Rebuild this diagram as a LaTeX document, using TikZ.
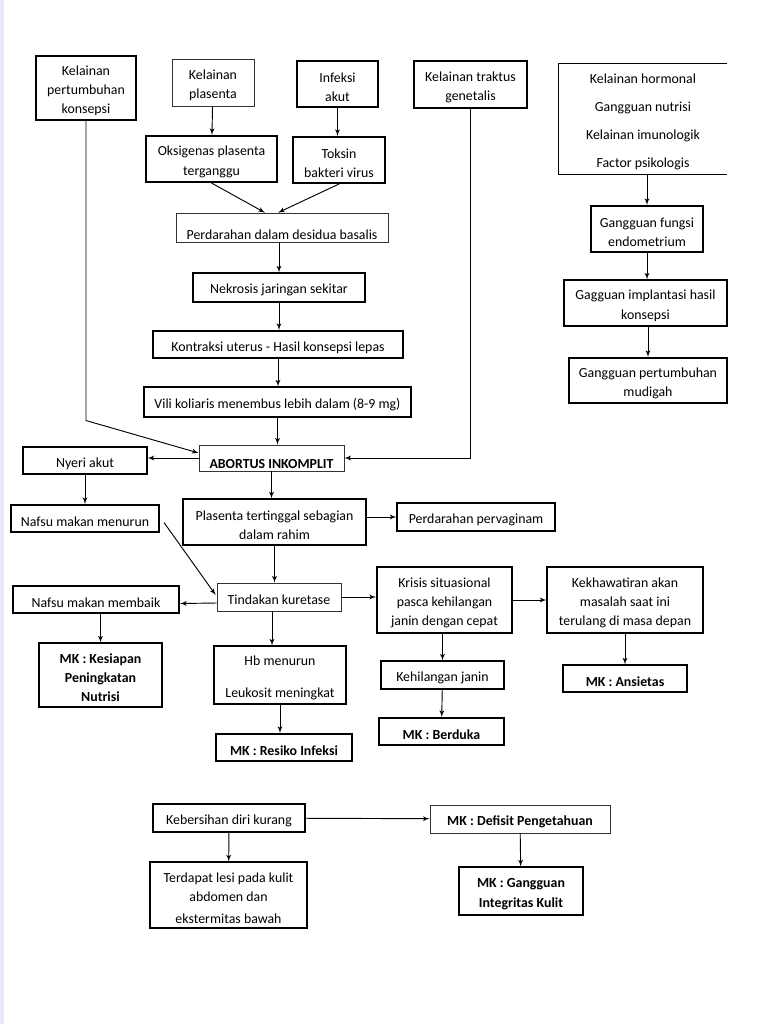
\documentclass[tikz,border=0pt]{standalone}
\usepackage{fontspec}
\setmainfont{Carlito}
\usepackage{tikz}
\usetikzlibrary{arrows}
\usetikzlibrary{calc}
\definecolor{strip}{RGB}{232,232,248}
\newcommand{\fsz}{\fontsize{10.4}{14.4}\selectfont}
\newcommand{\hgt}{\rule{0pt}{11.5pt}}
\tikzstyle{every node}+=[inner sep=0pt]
\tikzstyle{block} = [rectangle, draw, text centered, align=center, line width=0.8pt, execute at begin node={\hgt}]
\tikzstyle{blockb} = [block, line width=1.5pt]
\tikzstyle{blockt} = [block, line width=0.5pt, draw=black!80]
\tikzstyle{mk} = [font=\fsz\bfseries]
\tikzstyle{line} = [draw, -latex', line width=0.7pt]
\tikzset{wh/.style 2 args={minimum width=#1*0.75pt, minimum height=#2*0.75pt}}

\begin{document}
\begin{tikzpicture}[x=0.75pt, y=-0.75pt, font=\fsz]
            \useasboundingbox (0,0) rectangle (768,1024);
            \fill[strip] (0,0) rectangle (4,1024);
            % Place nodes
            \node [block, wh={100}{64}] (kp) at (86,88) {\hgt Kelainan\\pertumbuhan\\konsepsi};
            \node [blockt, wh={82}{47}] (kpl) at (213,82.5) {\hgt Kelainan\\plasenta};
            \node [block, wh={81}{46}] (ia) at (337.5,84) {\hgt Infeksi\\akut};
            \node [block, wh={113}{47}] (kt) at (470.5,84.5) {\hgt Kelainan traktus\\genetalis};
            \node [align=center, wh={168}{110}] (kh) at (643,119) {\hgt Kelainan hormonal\\[6.5pt]Gangguan nutrisi\\[6.5pt]Kelainan imunologik\\[6.5pt]Factor psikologis};
            \draw [line width=0.5pt] (kh.north east) -- (kh.north west) -- (kh.south west) -- (kh.south east);
            \node [blockb, wh={131}{46}] (op) at (211.5,159) {\hgt Oksigenas plasenta\\terganggu};
            \node [blockb, wh={92}{46}] (tb) at (339,160) {\hgt Toksin\\bakteri virus};
            \node [blockt, wh={212}{29}, text height=18pt, text depth=0pt, inner ysep=1.5pt] (pd) at (282,227.5) {Perdarahan dalam desidua basalis};
            \node [block, wh={172}{29}] (nk) at (279,287.5) {Nekrosis jaringan sekitar};
            \node [blockb, wh={250}{27}] (ku) at (278,344.5) {Kontraksi uterus - Hasil konsepsi lepas};
            \node [block, wh={267}{30}] (vk) at (277.5,402) {Vili koliaris menembus lebih dalam (8-9 mg)};
            \node [blockt, mk, wh={145}{26}, text height=16pt, text depth=0pt, inner ysep=1.5pt] (ab) at (271.5,458) {ABORTUS INKOMPLIT};
            \node [block, wh={124}{27}] (ny) at (85,460.5) {Nyeri akut};
            \node [blockb, wh={148}{27}] (nm) at (85,518.5) {Nafsu makan menurun};
            \node [block, wh={183}{46}] (pt) at (274.5,522) {\hgt Plasenta tertinggal sebagian\\dalam rahim};
            \node [block, wh={158}{28}] (pp) at (476,517) {Perdarahan pervaginam};
            \node [blockb, wh={112}{46}] (gf) at (647,229) {\hgt Gangguan fungsi\\endometrium};
            \node [block, wh={163}{46}] (gi) at (645.5,303) {\hgt Gagguan implantasi hasil\\konsepsi};
            \node [blockb, wh={158}{45}] (gp) at (648,380.5) {\hgt Gangguan pertumbuhan\\mudigah};
            \node [blockt, wh={124}{28}] (tk) at (279,597) {Tindakan kuretase};
            \node [blockb, wh={166}{27}] (nb) at (96,599.5) {Nafsu makan membaik};
            \node [block, mk, wh={123}{64}] (mkn) at (100.5,675) {\hgt MK : Kesiapan\\Peningkatan\\Nutrisi};
            \node [block, wh={132}{58}] (hb) at (280,675) {\hgt Hb menurun\\[10pt]Leukosit meningkat};
            \node [blockb, mk, wh={136}{27}] (mkr) at (284,747.5) {MK : Resiko Infeksi};
            \node [blockb, wh={135}{66}] (ks) at (444.5,600) {\hgt Krisis situasional\\pasca kehilangan\\janin dengan cepat};
            \node [block, wh={156}{66}] (kw) at (625,600) {\hgt Kekhawatiran akan\\masalah saat ini\\terulang di masa depan};
            \node [block, mk, wh={124}{27}] (mka) at (625,678.5) {MK : Ansietas};
            \node [block, wh={123}{28}] (kj) at (442.5,675) {Kehilangan janin};
            \node [blockb, mk, wh={125}{27}] (mkb) at (441.5,731.5) {MK : Berduka};
            \node [blockb, wh={152}{28}] (kb) at (229,818) {Kebersihan diri kurang};
            \node [blockt, mk, wh={180}{28}] (mkd) at (520,819) {MK : Defisit Pengetahuan};
            \node [block, wh={157}{66}] (tl) at (228.5,895) {\hgt Terdapat lesi pada kulit\\abdomen dan\\[2pt]ekstermitas bawah};
            \node [block, mk, wh={124}{48}] (mkg) at (521,891) {\hgt MK : Gangguan\\Integritas Kulit};
            % Draw edges
            \path [line] (kpl) -- (op);
            \path [line] (ia.south) -- (ia.south |- tb.north);
            \path [line] (op.south) -- ($(pd.north)+(-17,0)$);
            \path [line] (tb.south) -- ($(pd.north)+(-4,0)$);
            \path [line] (nk.north |- pd.south) -- (nk.north);
            \path [line] (nk.south) -- (nk.south |- ku.north);
            \path [line] (ku.south) -- (ku.south |- vk.north);
            \path [line] (vk.south) -- (vk.south |- ab.north);
            \path [line] (kp.south) -- ++(0,300) -- ($(ab.west)+(0,-5)$);
            \path [line] (kt.south) |- (ab.east);
            \path [line] (ab.west) -- (ny.east |- ab.west);
            \path [line] (ny) -- (nm);
            \path [line] (ab.south) -- (ab.south |- pt.north);
            \path [line] (pp.west -| pt.east) -- (pp.west);
            \path [line] (pt.south) -- (pt.south |- tk.north);
            \path [line] ($(nm.east)+(4,4)$) -- ($(tk.west)+(-1,-2)$);
            \path [line] ($(tk.west)+(0,6)$) -- ($(nb.east)+(0,4)$);
            \path [line] (mkn.north |- nb.south) -- (mkn.north);
            \path [line] ($(tk.south)+(-7,0)$) -- ($(hb.north)+(-8,0)$);
            \path [line] (hb.south) -- (hb.south |- mkr.north);
            \path [line] (tk.east) -- (tk.east -| ks.west);
            \path [line] (ks) -- (kw);
            \path [line] (kw) -- (mka);
            \path [line] (kj.north |- ks.south) -- (kj.north);
            \path [line] (kj) -- (mkb);
            \path [line] (kb) -- (mkd);
            \path [line] (kb) -- (tl);
            \path [line] (mkd) -- (mkg);
            \path [line] (gf.north |- kh.south) -- (gf.north);
            \path [line] (gf.south) -- (gf.south |- gi.north);
            \path [line] (gp.north |- gi.south) -- (gp.north);
          \end{tikzpicture}
\end{document}
